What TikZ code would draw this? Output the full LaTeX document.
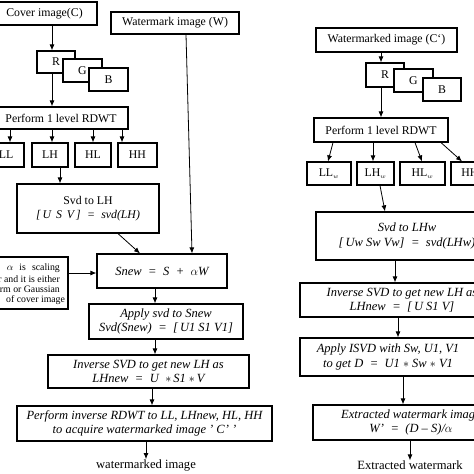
\documentclass[tikz,border=0pt]{standalone}
\usepackage{fontspec}
\setmainfont{Liberation Serif}
\usetikzlibrary{arrows.meta}
\begin{document}
\begin{tikzpicture}[x=1pt,y=-1pt,
  box/.style={draw,line width=1.2pt,fill=white,inner sep=0pt,align=center,
    font=\fontsize{11.8}{13}\selectfont},
  ibox/.style={box,font=\fontsize{12.5}{14.5}\selectfont\itshape},
  rect/.style n args={4}{minimum width={(#3)-(#1)},minimum height={(#4)-(#2)},
    at={({((#1)+(#3))/2},{((#2)+(#4))/2})}},
  arr/.style={-{Latex[length=6pt,width=5pt]},line width=0.8pt},
  lbl/.style={inner sep=0pt,font=\fontsize{12.6}{14}\selectfont},
  small/.style={inner sep=0pt,font=\fontsize{9.8}{11}\selectfont}]
\useasboundingbox (0,0) rectangle (474,474);
\clip (0,0) rectangle (474,474);
% ---------------- left: embedding ----------------
\node[box,rect={-8}{2}{97}{25}] (cover) {Cover image(C)};
\node[box,rect={111}{12}{239}{34}] (wm) {Watermark image (W)};
\node[box,rect={37}{51}{75}{73}] (r1) {R};
\node[box,rect={63}{59}{102}{82}] (g1) {G};
\node[box,rect={89}{68}{128}{91}] (b1) {B};
\node[box,rect={-6}{107}{128}{129}] (perf1) {Perform 1 level RDWT};
\node[box,rect={-12}{143}{24}{167}] (ll) {LL};
\node[box,rect={32}{143}{68}{167}] (lh) {LH};
\node[box,rect={75}{143}{111}{167}] (hl) {HL};
\node[box,rect={118}{143}{157}{167}] (hh) {HH};
\node[box,rect={17}{184}{159}{233}] (svd1) {Svd to LH\\[1pt]{\itshape [$\,$U$\,$ S$\,$ V$\,$] $\;$=$\;$ svd(LH)}};
\node[box,rect={-10}{257}{68}{309}] (alpha) {};
\node[small,anchor=east] (a1) at (60,268) {\makebox[53pt][s]{$\alpha$ is scaling}};
\node[small,anchor=east] (a2) at (60,279) {r and it is either};
\node[small,anchor=east] (a3) at (60,289) {rm or Gaussian};
\node[small,anchor=west] (a4) at (6,300) {of cover image};
\node[ibox,rect={97}{254}{227}{288}] (snew) {Snew $\;$=$\;$ S $\;$+$\;$ $\alpha$W};
\node[ibox,rect={89}{304}{243}{339}] (apply1) {Apply svd to Snew\\Svd(Snew) $\;$=$\;$ [$\,$U1 S1 V1]};
\node[ibox,rect={48}{355}{249}{388}] (inv1) {Inverse SVD to get new LH as\\LHnew $\;$=$\;$ U $\;\ast\,$S1 $\ast\,$V};
\node[ibox,rect={17}{406}{272}{441}] (pinv) {Perform inverse RDWT to LL, LHnew, HL, HH\\to acquire watermarked image ' C' '};
\node[lbl] (out1) at (146,465) {watermarked image};
\draw[arr] (52,0 |- cover.south) -- (52,0 |- r1.north);
\draw[arr] (52,0 |- r1.south) -- (52,0 |- perf1.north);
\draw[arr] (10,0 |- perf1.south) -- (10,0 |- ll.north);
\draw[arr] (52,0 |- perf1.south) -- (52,0 |- lh.north);
\draw[arr] (93,0 |- perf1.south) -- (93,0 |- hl.north);
\draw[arr] (122,0 |- perf1.south) -- (122,0 |- hh.north);
\draw[arr] (60,0 |- lh.south) -- (60,0 |- svd1.north);
\draw[arr] ([xshift=11pt]wm.south) -- ([xshift=30pt]snew.north);
\draw[arr] ([xshift=30pt]svd1.south) -- ([xshift=-22pt]snew.north);
\draw[arr] (alpha.east |- 0,273) -- (snew.west |- 0,273);
\draw[arr] (155,0 |- snew.south) -- (155,0 |- apply1.north);
\draw[arr] (155,0 |- apply1.south) -- (155,0 |- inv1.north);
\draw[arr] (152,0 |- inv1.south) -- (152,0 |- pinv.north);
\draw[arr] (146,0 |- pinv.south) -- (146,0 |- out1.north);
% ---------------- right: extraction ----------------
\node[box,rect={316}{28}{457}{52}] (wm2) {Watermarked image (C`)};
\node[box,rect={366}{63}{404}{87}] (r2) {R};
\node[box,rect={394}{69}{433}{92}] (g2) {G};
\node[box,rect={423}{78}{461}{101}] (b2) {B};
\node[box,rect={314}{118}{448}{142}] (perf2) {Perform 1 level RDWT};
\node[box,rect={307}{162}{351}{185}] (llw) {LL$_{\scriptscriptstyle w}$};
\node[box,rect={357}{162}{394}{185}] (lhw) {LH$_{\scriptscriptstyle w}$};
\node[box,rect={400}{162}{445}{185}] (hlw) {HL$_{\scriptscriptstyle w}$};
\node[box,rect={451}{162}{495}{185}] (hhw) {HH$_{\scriptscriptstyle w}$};
\node[ibox,rect={316}{212}{498}{260}] (svd2) {Svd to LHw\\[1pt][$\,$Uw Sw Vw] $\;$=$\;$ svd(LHw)};
\node[ibox,rect={300}{283}{504}{317}] (inv2) {Inverse SVD to get new LH as\\LHnew $\;$=$\;$ [$\,$U S1 V]};
\node[ibox,rect={300}{338}{476}{376}] (apply2) {Apply ISVD with Sw, U1, V1\\to get D $\;$=$\;$ U1 $\ast$ Sw $\ast$ V1};
\node[ibox,rect={313}{405}{509}{440}] (ext) {Extracted watermark image\\W' $\;$=$\;$ (D -- S)/$\alpha$};
\node[lbl] (out2) at (410,465) {Extracted watermark};
\draw[arr] (381,0 |- wm2.south) -- (381,0 |- r2.north);
\draw[arr] (381,0 |- r2.south) -- (381,0 |- perf2.north);
\draw[arr] (333,0 |- perf2.south) -- (328,0 |- llw.north);
\draw[arr] (373,0 |- perf2.south) -- (373,0 |- lhw.north);
\draw[arr] (415,0 |- perf2.south) -- (422,0 |- hlw.north);
\draw[arr] (441,0 |- perf2.south) -- (462,0 |- hhw.north);
\draw[arr] (380,0 |- lhw.south) -- (385,0 |- svd2.north);
\draw[arr] (395,0 |- svd2.south) -- (395,0 |- inv2.north);
\draw[arr] (398,0 |- inv2.south) -- (398,0 |- apply2.north);
\draw[arr] (403,0 |- apply2.south) -- (403,0 |- ext.north);
\draw[arr] (410,0 |- ext.south) -- (410,0 |- out2.north);
\end{tikzpicture}
\end{document}
